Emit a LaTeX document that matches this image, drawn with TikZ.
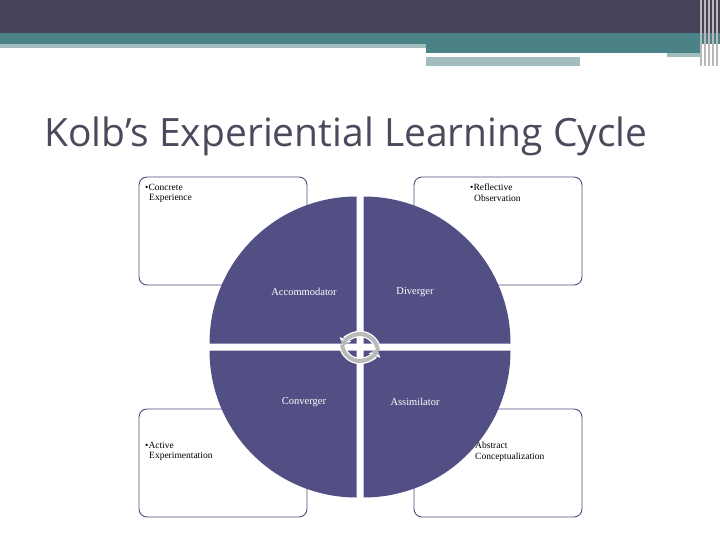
\documentclass[tikz,border=0pt]{standalone}
\usepackage{fontspec}
\setmainfont{Liberation Serif}
\newfontfamily\titlefont{Open Sans}
\usetikzlibrary{arrows.meta,calc}
\definecolor{barDark}{HTML}{45435A}
\definecolor{barTeal}{HTML}{4A8287}
\definecolor{barLight}{HTML}{A2BDBE}
\definecolor{quadFill}{HTML}{524F85}
\definecolor{boxLine}{HTML}{4F4B7A}
\definecolor{titleGray}{HTML}{4A4A5C}
\tikzset{
  quad/.style={fill=quadFill,draw=none},
  stagebox/.style={draw=boxLine,rounded corners=8pt,line width=0.9pt},
  quadlabel/.style={text=white,font=\fontsize{10.5}{12}\selectfont},
  boxtext/.style={font=\fontsize{9.5}{10.5}\selectfont,align=left,anchor=north west,inner sep=0pt},
  cyclearrow/.style={draw=white,line width=6.5pt,-{Triangle[length=7pt,width=12pt]}},
  cycleinner/.style={draw=gray!55,line width=4pt,-{Triangle[length=5pt,width=9pt]}}
}
\begin{document}
\begin{tikzpicture}[x=1pt,y=-1pt]
        \useasboundingbox (0,0) rectangle (720,540);
        % header bars
        \fill[barDark] (0,0) rectangle (720,33);
        \fill[barTeal] (0,33) rectangle (720,44);
        \fill[barLight] (0,44) rectangle (426,48);
        \fill[barTeal] (426,44) rectangle (700,53);
        \fill[barLight] (667,53) rectangle (700,57);
        \fill[barLight] (426,57) rectangle (580,66);
        \foreach \x in {700,704,708,712,716}
                \fill[gray!55] (\x,0) rectangle ++(1.5,66);

        % title
        \node[anchor=base west,text=titleGray,inner sep=0pt,
              font=\titlefont\fontsize{39}{42}\selectfont] (title) at (44,147)
              {Kolb’s Experiential Learning Cycle};

        % stage boxes
        \draw[stagebox] (139,177) rectangle (307,285);
        \draw[stagebox] (414,177) rectangle (582,285);
        \draw[stagebox] (139,409) rectangle (307,517);
        \draw[stagebox] (414,409) rectangle (582,517);
        \node[boxtext] (ce) at (145,184) {•Concrete\\\hspace{4pt}Experience};
        \node[boxtext] (ro) at (470,184) {•Reflective\\\hspace{4pt}Observation};
        \node[boxtext] (ae) at (145,442) {•Active\\\hspace{4pt}Experimentation};
        \node[boxtext] (ac) at (475,442) {Abstract\\Conceptualization};

        % quadrants
        \foreach \dx/\dy/\a in {-3.5/-3.5/180, 3.5/-3.5/270, 3.5/3.5/0, -3.5/3.5/90}
                \fill[quad] (360+\dx,347+\dy) -- ++(\a:147) arc[start angle=\a,delta angle=90,radius=147] -- cycle;

        \node[quadlabel] (acc) at (304,292) {Accommodator};
        \node[quadlabel] (div) at (415,292) {Diverger};
        \node[quadlabel] (con) at (304,402) {Converger};
        \node[quadlabel] (ass) at (415,402) {Assimilator};

        % cycle arrows
        \coordinate (upC) at (360,343);
        \coordinate (loC) at (360,352);
        \foreach \s in {cyclearrow,cycleinner} {
                \draw[\s] ($(upC)+(175:18)$) arc[start angle=175,end angle=20,radius=18];
                \draw[\s] ($(loC)+(-5:18)$) arc[start angle=-5,end angle=-160,radius=18];
        }
\end{tikzpicture}
\end{document}
